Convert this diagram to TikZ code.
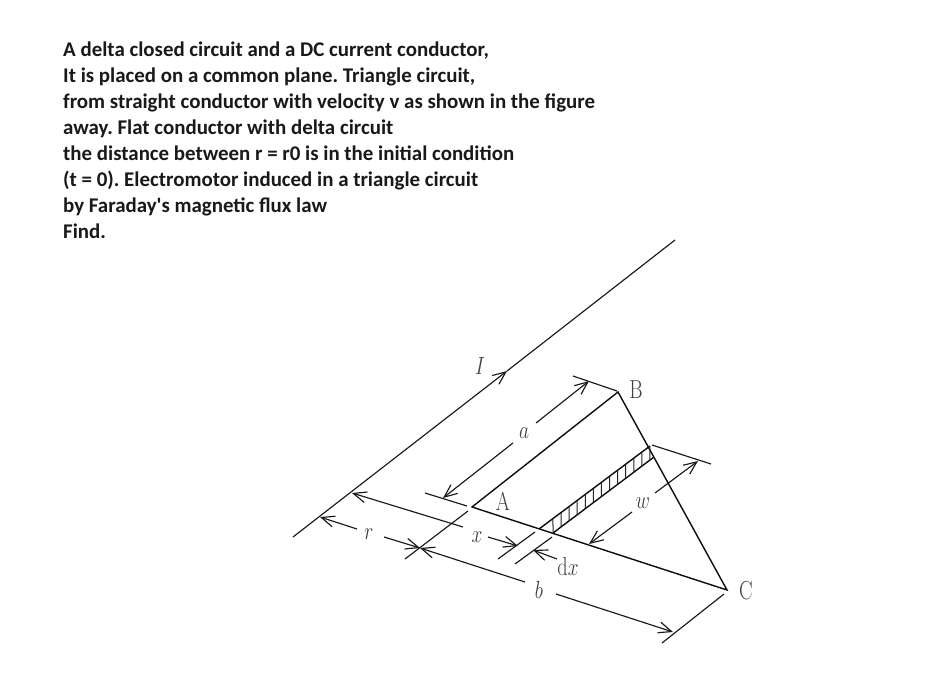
\documentclass[tikz,border=0pt]{standalone}
\usepackage{fontspec}
\usetikzlibrary{arrows.meta,calc}
\newfontfamily\probfont{Carlito}[BoldFont={Carlito Bold}]
\frenchspacing
\tikzset{
  x=1pt,y=-1pt,
  thin line/.style={line width=1.15pt,draw=black!90},
  part line/.style={line width=1.4pt,draw=black!95},
  dim arrow/.style={thin line,-{Straight Barb[length=13pt,width=11pt,line width=1.15pt]}},
  hatch line/.style={line width=1pt,draw=black!85},
  prob text/.style={anchor=base west,inner sep=0pt,font=\probfont\bfseries\fontsize{20.9}{24}\selectfont,text=black!90},
  dim label/.style={inner sep=0pt,text=black!75,xscale=.78,font=\fontsize{26}{30}\selectfont},
}
\begin{document}
\frenchspacing
\begin{tikzpicture}
\useasboundingbox (0,0) rectangle (929,683);
\fill[white] (0,0) rectangle (929,683);
% problem text
\node[prob text] (t1) at (63,56) {A delta closed circuit and a DC current conductor,};
\node[prob text] (t2) at (63,82) {It is placed on a common plane. Triangle circuit,};
\node[prob text] (t3) at (63,108) {from straight conductor with velocity v as shown in the figure};
\node[prob text] (t4) at (63,134) {away. Flat conductor with delta circuit};
\node[prob text] (t5) at (63,160) {the distance between r = r0 is in the initial condition};
\node[prob text] (t6) at (63,186) {(t = 0). Electromotor induced in a triangle circuit};
\node[prob text] (t7) at (63,212) {by Faraday's magnetic flux law};
\node[prob text] (t8) at (63,238) {Find.};
% key points
\coordinate (wireS) at (293,537);
\coordinate (wireE) at (675,240);
\coordinate (wireI) at (507,371);
\coordinate (A) at (472,507);
\coordinate (B) at (618,392);
\coordinate (C) at (727,590);
\coordinate (rL) at (320,517);
\coordinate (rR) at (420,548);
\coordinate (rA) at (357,529);
\coordinate (rB) at (384,537);
\coordinate (xL) at (352,493);
\coordinate (xA) at (463,527);
\coordinate (xB) at (488,537);
\coordinate (xR) at (518,546);
\coordinate (tickAa) at (405,559);
\coordinate (tickAb) at (468,511);
\coordinate (tickBa) at (498,559);
\coordinate (tickBb) at (535,532);
\coordinate (tickCa) at (515,564);
\coordinate (tickCb) at (552,537);
\coordinate (tickDa) at (425,493);
\coordinate (tickDb) at (467,506);
\coordinate (tickEa) at (573,376);
\coordinate (tickEb) at (617,391);
\coordinate (tickFa) at (652,445);
\coordinate (tickFb) at (711,464);
\coordinate (tickGa) at (662,643);
\coordinate (tickGb) at (724,594);
\coordinate (aA) at (513,443);
\coordinate (aL) at (443,498);
\coordinate (aB) at (536,423);
\coordinate (aR) at (589,381);
\coordinate (wA) at (632,512);
\coordinate (wL) at (589,544);
\coordinate (wB) at (655,493);
\coordinate (wR) at (698,461);
\coordinate (bA) at (525,582);
\coordinate (bB) at (556,594);
\coordinate (bR) at (673,632);
\coordinate (dxS) at (557,559);
\coordinate (dxT) at (533,550);
\coordinate (s1) at (539,529);
\coordinate (s2) at (650,446);
\coordinate (s3) at (553,533);
\coordinate (s4) at (654,457);
% labels
\node[dim label] (lI) at (480,366) {$I$};
\node[dim label] (la) at (524,433) {$a$};
\node[dim label] (lr) at (369,534) {$r$};
\node[dim label] (lx) at (477,537) {$x$};
\node[dim label] (lw) at (643,503) {$w$};
\node[dim label] (lb) at (539,590) {$b$};
\node[dim label] (ldx) at (568,567) {$\mathrm{d}x$};
\node[dim label] (lA) at (503,501) {A};
\node[dim label] (lB) at (636,390) {B};
\node[dim label] (lC) at (746,591) {C};
% conductor
\draw[dim arrow] (wireS) -- (wireI);
\draw[thin line] (wireI) -- (wireE);
% triangle circuit
\draw[part line,line join=miter] (A) -- (B) -- (C) -- cycle;
% hatched strip
\draw[part line] (s1) -- (s2);
\draw[part line] (s3) -- (s4);
\foreach \t in {0,.08,...,.97}
  \draw[hatch line] ($(s3)!\t!(s4)$) -- ($(s1)!{.126+.91*\t}!(s2)$);
% extension ticks
\draw[thin line] (tickAa) -- (tickAb);
\draw[thin line] (tickBa) -- (tickBb);
\draw[thin line] (tickCa) -- (tickCb);
\draw[thin line] (tickDa) -- (tickDb);
\draw[thin line] (tickEa) -- (tickEb);
\draw[thin line] (tickFa) -- (tickFb);
\draw[thin line] (tickGa) -- (tickGb);
% dimension arrows
\draw[dim arrow] (rA) -- (rL);
\draw[dim arrow] (rB) -- (rR);
\draw[dim arrow] (xA) -- (xL);
\draw[dim arrow] (xB) -- (xR);
\draw[dim arrow] (aA) -- (aL);
\draw[dim arrow] (aB) -- (aR);
\draw[dim arrow] (wA) -- (wL);
\draw[dim arrow] (wB) -- (wR);
\draw[dim arrow] (bA) -- (rR);
\draw[dim arrow] (bB) -- (bR);
\draw[dim arrow] (dxS) -- (dxT);
\end{tikzpicture}
\end{document}
